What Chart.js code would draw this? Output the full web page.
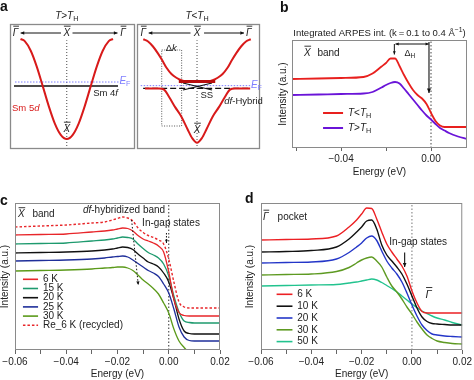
<!DOCTYPE html>
<html><head><meta charset="utf-8">
<script src="https://cdn.jsdelivr.net/npm/chart.js@4/dist/chart.umd.min.js"></script>
<style>
html,body{margin:0;padding:0;background:#fff;}
#wrap{position:relative;width:474px;height:380px;overflow:hidden;background:#fff;}
canvas{position:absolute;left:0;top:0;}
</style></head><body>
<div id="wrap">
<canvas id="pa1" width="474" height="380"></canvas>
<canvas id="pa2" width="474" height="380"></canvas>
<canvas id="pb" width="474" height="380"></canvas>
<canvas id="pc" width="474" height="380"></canvas>
<canvas id="pd" width="474" height="380"></canvas>
</div>
<script>
// ---------------- DATA ----------------
// Panel a (schematic bands, box units 0-100)
const aLeft5dX = [8.4,11.8,16.6,21.4,26.2,31,35.8,40.6,45.4,50.2,55,59.8,64.6,69.4,74.2,79,82.4];
const aLeft5dY = [88,86.3,78.6,65.9,50.3,34.3,20.5,11.3,8,11.3,20.5,34.3,50.3,65.9,78.6,86.3,88];
const aLeft4fX = [3.2,86.4];  const aLeft4fY = [50.4,50.4];
const aLeftEFX = [4,88];      const aLeftEFY = [53.6,53.6];
const aLeftCutX = [45.4,45.4]; const aLeftCutY = [0,87];

const aRightUpX = [5.1,9,13,17,20.5,24,28,32,36,40,48.8,57.6,61.6,65.6,69.6,73.6,77.1,80.6,84.6,88.6,92.5];
const aRightUpY = [87.8,86,82,76.5,71,65,60,57,55,54,53.6,54,55,57,60,65,71,76.5,82,86,87.8];
const aRightFlatX = [34,63.6]; const aRightFlatY = [54,54];
const aRightLowX = [6.5,18,22,26.5,31,36,41,45,48.8,52.6,56.6,61.6,66.6,71.1,75.6,79.6,92];
const aRightLowY = [48.5,48.5,47.5,41,33.5,26,16,8.5,5,8.5,16,26,33.5,41,47.5,48.5,48.5];
const aRight4fX = [5,92];     const aRight4fY = [48.5,48.5];
const aRightEFX = [3,92];     const aRightEFY = [50.7,50.7];
const aRightSS1X = [37.4,61]; const aRightSS1Y = [52.8,47.2];
const aRightSS2X = [37.4,61]; const aRightSS2Y = [47.2,52.8];
const aRightBoxX = [20.1,36.3,36.3,20.1,20.1]; const aRightBoxY = [79.2,79.2,18.4,18.4,79.2];
const aRightCutX = [48.8,48.8]; const aRightCutY = [0,87];

// Panel b
const energyB = [-0.062,-0.05,-0.04,-0.03,-0.026,-0.022,-0.02,-0.018,-0.016,-0.014,-0.012,-0.01,-0.008,-0.006,-0.004,-0.002,0,0.002,0.004,0.006,0.008,0.012,0.016];
const bBelowTH = [69,69.5,70,71,74.5,81.5,85,89.5,89.5,82,73,65,58,53,49.5,44,35,27,22.5,21,21,21,21];
const bAboveTH = [53,53.5,54,54.5,56,60.5,63,65,66,64.5,59.5,54,48.5,43,37.5,32.5,28.5,24,20,17.5,15,11.5,9];
const tickValsB = [-0.06,-0.04,-0.02,0];
const tickLabelsB = ['','\u22120.04','','0.00'];

// Panels c and d share an energy grid
const energyCD = [-0.06,-0.05,-0.04,-0.03,-0.025,-0.022,-0.02,-0.018,-0.016,-0.014,-0.012,-0.01,-0.008,-0.006,-0.004,-0.002,0,0.002,0.004,0.006,0.008,0.01,0.013,0.016,0.02];
const c6K   = [115,115.5,116,118,119,120,121,122,121.5,119,114.5,111,109,107,104,98,78,51,37.5,34.5,34,34,34,34,34];
const c15K  = [106,106.5,107,109,110,111,112,113,112.5,111,106,101.5,97.5,95,92,86,74,54,38,29,27.5,27,27,27,27];
const c20K  = [97,97.5,98,99,100,101,102,103,102.5,100.5,96,92,88,86,83,77,68,51,31,19,16.5,16,16,16,16];
const c25K  = [89,89.5,90,91,92,93,93.5,94,93,90,86.5,83,79.5,77,73.5,66,57,41,23,13,9.5,9,9,9,9];
const c30K  = [79,79.5,80,81,82,82.5,83,83,82,79.5,75,70,66,61.5,56,47,37,21,9,2.5,-3,null,null,null,null];
const cRe6K = [123,124,125,127,128,130,131.5,133,132,129,122,117.5,114.5,112.5,110,106,91,68,48,43,42,42,42,42,42];
const labelsC = ['6 K','15 K','20 K','25 K','30 K','Re_6 K (recycled)'];

const d6K  = [110,110.5,111,114,123,130,136,142,141.5,131,118,106,98,91,84,74,59,47,38.5,37,37,37,37,37,37];
const d10K = [98,98.5,99.5,103,111,118,123,129,130,121,105,95,89,83,76,66,54,42,33,28.5,26.5,26,25.5,25,25];
const d20K = [87,87.5,88,91,97.5,103,107,112,114,109.5,99,89,82,76,68,57,45,34,25,19.5,16,15,14,13.5,13];
const d30K = [75,75.5,76,78.5,82.5,87,90,92,93,89,83,73,64,58,51,43,36,28,21,15,11.5,9,7.5,6.5,6];
const d50K = [64,64.5,65,65.5,67,68,69,70,71,70,67.5,64.5,61.5,58,54,50,46,42.5,39,36.5,34,32,30,27.5,25];
const labelsD = ['6 K','10 K','20 K','30 K','50 K'];

const tickValsCD = [-0.06,-0.05,-0.04,-0.03,-0.02,-0.01,0,0.01,0.02];
const tickLabelsCD = ['\u22120.06','','\u22120.04','','\u22120.02','','0.00','','0.02'];

// ---------------- HELPERS ----------------
const FONT = '"Liberation Sans", Arial, Helvetica, sans-serif';
Chart.defaults.font.family = FONT;
Chart.defaults.color = '#222';

function pts(xs, ys){ return xs.map((x,i)=>({x:x, y:ys[i]})); }
function curve(xs, ys, color, w, extra){
  return Object.assign({data:pts(xs,ys), borderColor:color, borderWidth:w, pointRadius:0, fill:false,
    cubicInterpolationMode:'monotone', spanGaps:false}, extra||{});
}
function straight(xs, ys, color, w, dash){
  return {data:pts(xs,ys), borderColor:color, borderWidth:w, pointRadius:0, fill:false,
    tension:0, cubicInterpolationMode:'default', borderDash:dash||[]};
}
function fnt(p, s){ return (p.i?'italic ':'') + (p.b?'bold ':'') + s + 'px ' + FONT; }
function rich(ctx, parts, x, y, align, base){
  base = base || {};
  const size = base.size || 10;
  let w = 0; const m = [];
  for (const p of parts){
    const s = (p.sub||p.sup) ? size*0.72 : size;
    ctx.font = fnt(p, s);
    const pw = ctx.measureText(p.t).width;
    m.push({p:p, s:s, pw:pw}); w += pw;
  }
  let cx = align==='center' ? x - w/2 : (align==='right' ? x - w : x);
  ctx.save(); ctx.textBaseline='middle'; ctx.textAlign='left';
  for (const it of m){
    const p = it.p;
    const col = p.color || base.color || '#222';
    ctx.font = fnt(p, it.s); ctx.fillStyle = col;
    const dy = p.sub ? size*0.32 : (p.sup ? -size*0.35 : 0);
    ctx.fillText(p.t, cx, y+dy);
    if (p.bar){
      ctx.strokeStyle = col; ctx.lineWidth = 0.9;
      ctx.beginPath(); ctx.moveTo(cx+0.5, y - size*0.68); ctx.lineTo(cx+it.pw+0.5, y - size*0.68); ctx.stroke();
    }
    cx += it.pw;
  }
  ctx.restore();
}
function arrow(ctx, x1, y1, x2, y2, o){
  o = o || {};
  ctx.save();
  ctx.strokeStyle = ctx.fillStyle = o.color || '#111';
  ctx.lineWidth = o.lw || 1;
  if (o.dash) ctx.setLineDash(o.dash);
  ctx.beginPath(); ctx.moveTo(x1,y1); ctx.lineTo(x2,y2); ctx.stroke();
  ctx.setLineDash([]);
  const h = o.head || 4;
  const heads = o.both ? [[x2,y2,x1,y1],[x1,y1,x2,y2]] : [[x1,y1,x2,y2]];
  for (const hd of heads){
    const ang = Math.atan2(hd[3]-hd[1], hd[2]-hd[0]);
    ctx.beginPath(); ctx.moveTo(hd[2],hd[3]);
    ctx.lineTo(hd[2]-h*Math.cos(ang-0.42), hd[3]-h*Math.sin(ang-0.42));
    ctx.lineTo(hd[2]-h*Math.cos(ang+0.42), hd[3]-h*Math.sin(ang+0.42));
    ctx.closePath(); ctx.fill();
  }
  ctx.restore();
}
function frame(ctx, A, color, lw){
  ctx.save(); ctx.strokeStyle = color || '#8a8a8a'; ctx.lineWidth = lw || 1;
  ctx.strokeRect(A.left+0.5, A.top+0.5, A.right-A.left-1, A.bottom-A.top-1); ctx.restore();
}
function letter(ctx, s, x, y){
  ctx.save(); ctx.font = 'bold 14px ' + FONT; ctx.fillStyle = '#111'; ctx.textBaseline='alphabetic';
  ctx.fillText(s, x, y); ctx.restore();
}
function vtitle(ctx, s, x, y){
  ctx.save(); ctx.translate(x,y); ctx.rotate(-Math.PI/2); ctx.font = '10px ' + FONT; ctx.fillStyle='#222';
  ctx.textAlign='center'; ctx.textBaseline='middle'; ctx.fillText(s,0,0); ctx.restore();
}
function htitle(ctx, s, x, y){
  ctx.save(); ctx.font = '10px ' + FONT; ctx.fillStyle='#222';
  ctx.textAlign='center'; ctx.textBaseline='middle'; ctx.fillText(s,x,y); ctx.restore();
}
function legLine(ctx, x1, x2, y, color, w, dash){
  ctx.save(); ctx.strokeStyle=color; ctx.lineWidth=w; if(dash) ctx.setLineDash(dash);
  ctx.beginPath(); ctx.moveTo(x1,y); ctx.lineTo(x2,y); ctx.stroke(); ctx.restore();
}

function makeChart(id, area, xr, yr, xAxis, datasets, draw){
  const xh = xAxis ? xAxis.height : 0;
  const x = {type:'linear', min:xr[0], max:xr[1], display: !!xAxis};
  if (xAxis) Object.assign(x, {
    position:'bottom',
    afterBuildTicks: s => { s.ticks = xAxis.values.map(v => ({value:v})); },
    afterFit: s => { s.height = xAxis.height; },
    ticks: {autoSkip:false, maxRotation:0, minRotation:0, padding:xAxis.pad, color:'#222',
      font:{size:10, family:FONT}, callback:(v,i) => xAxis.labels[i]},
    grid: {drawOnChartArea:false, drawTicks:true, tickLength:xAxis.tick, color:'#666', lineWidth:1},
    border: {display:false}
  });
  return new Chart(document.getElementById(id), {
    type:'line',
    data:{datasets:datasets},
    options:{
      responsive:false, animation:false, events:[],
      layout:{autoPadding:false, padding:{left:area[0], top:area[1], right:474-area[2], bottom:380-area[3]-xh}},
      plugins:{legend:{display:false}, tooltip:{enabled:false}, title:{display:false}},
      scales:{x:x, y:{type:'linear', display:false, min:yr[0], max:yr[1]}}
    },
    plugins:[{id:'deco', afterDraw(chart){
      const ctx = chart.ctx, A = chart.chartArea;
      const X = v => chart.scales.x.getPixelForValue(v), Y = v => chart.scales.y.getPixelForValue(v);
      ctx.save(); draw(ctx, X, Y, A); ctx.restore();
    }}]
  });
}

const RED_A = '#d81a1a', EF_BLUE = '#7f7fff';
const T = (rel) => [{t:'T',i:1},{t:rel},{t:'T',i:1},{t:'H',sub:1}];

// ---------------- PANEL a (left) ----------------
makeChart('pa1', [10,24,135,149], [0,100], [0,100], null, [
  curve(aLeft5dX, aLeft5dY, RED_A, 2),
  straight(aLeft4fX, aLeft4fY, '#111', 1.4),
  straight(aLeftEFX, aLeftEFY, EF_BLUE, 1, [1.5,1.5]),
  straight(aLeftCutX, aLeftCutY, '#333', 0.9, [1,2])
], (ctx, X, Y, A) => {
  frame(ctx, A, '#8a8a8a', 1.3);
  letter(ctx, 'a', 0, 11);
  rich(ctx, T('>'), X(45.4), 16, 'center');
  rich(ctx, [{t:'\u0393',i:1,bar:1}], X(4.5), Y(92.8), 'center');
  rich(ctx, [{t:'X',i:1,bar:1}], X(45.4), Y(92.8), 'center');
  rich(ctx, [{t:'\u0393',i:1,bar:1}], X(90.4), Y(92.8), 'center');
  arrow(ctx, X(40.8), Y(92.8), X(8.5), Y(92.8));
  arrow(ctx, X(50), Y(92.8), X(86), Y(92.8));
  rich(ctx, [{t:'E',i:1},{t:'F',sub:1}], X(87.5), Y(54.6), 'left', {color:EF_BLUE});
  rich(ctx, [{t:'Sm 4'},{t:'f',i:1}], X(66.5), Y(44.6), 'left', {size:9.5});
  rich(ctx, [{t:'Sm 5'},{t:'d',i:1}], X(1.6), Y(32.8), 'left', {color:RED_A, size:9.5});
  rich(ctx, [{t:'X',i:1,bar:1}], X(45.4), Y(16), 'center');
});

// ---------------- PANEL a (right) ----------------
makeChart('pa2', [137,24,260,149], [0,100], [0,100], null, [
  straight(aRightFlatX, aRightFlatY, '#b80e0e', 3.2),
  curve(aRightUpX, aRightUpY, RED_A, 2),
  curve(aRightLowX, aRightLowY, RED_A, 2),
  straight(aRightSS1X, aRightSS1Y, '#111', 1.1),
  straight(aRightSS2X, aRightSS2Y, '#111', 1.1),
  straight(aRight4fX, aRight4fY, '#111', 1.4, [6,3]),
  straight(aRightEFX, aRightEFY, EF_BLUE, 1, [1.5,1.5]),
  straight(aRightBoxX, aRightBoxY, '#444', 0.9, [1,1.5]),
  straight(aRightCutX, aRightCutY, '#333', 0.9, [1,2])
], (ctx, X, Y, A) => {
  frame(ctx, A, '#8a8a8a', 1.3);
  rich(ctx, T('<'), X(48.8), 16, 'center');
  rich(ctx, [{t:'\u0393',i:1,bar:1}], X(5.1), Y(92.8), 'center');
  rich(ctx, [{t:'X',i:1,bar:1}], X(48.8), Y(92.8), 'center');
  rich(ctx, [{t:'\u0393',i:1,bar:1}], X(91), Y(92.8), 'center');
  arrow(ctx, X(43.5), Y(92.8), X(9.5), Y(92.8));
  arrow(ctx, X(54.5), Y(92.8), X(87), Y(92.8));
  rich(ctx, [{t:'\u0394'},{t:'k',i:1}], X(27.8), Y(80.5), 'center', {size:9.5});
  rich(ctx, [{t:'SS'}], X(56.7), Y(43.2), 'center', {size:9.5});
  rich(ctx, [{t:'df',i:1},{t:'-Hybrid'}], X(71), Y(38.2), 'left', {size:9.5});
  rich(ctx, [{t:'E',i:1},{t:'F',sub:1}], X(92.6), Y(51), 'left', {color:EF_BLUE});
  rich(ctx, [{t:'X',i:1,bar:1}], X(48.8), Y(15.2), 'center');
});

// ---------------- PANEL b ----------------
makeChart('pb', [292,40,467,148], [-0.0618,0.016], [0,108],
  {values:tickValsB, labels:tickLabelsB, height:22, tick:3, pad:2}, [
  curve(energyB, bBelowTH, '#e8201e', 1.8),
  curve(energyB, bAboveTH, '#6a14d8', 1.8),
  straight([0,0], [0,108], '#444', 1, [1.5,2])
], (ctx, X, Y, A) => {
  frame(ctx, A, '#8a8a8a', 1);
  letter(ctx, 'b', 280, 12);
  rich(ctx, [{t:'Integrated ARPES int. (k\u2009=\u20090.1 to 0.4 \u00C5'},{t:'\u22121',sup:1},{t:')'}], (A.left+A.right)/2, A.top-7, 'center', {size:9.5});
  rich(ctx, [{t:'X',i:1,bar:1}], X(-0.0565), Y(95), 'left');
  rich(ctx, [{t:'band'}], X(-0.0505), Y(95), 'left');
  arrow(ctx, X(-0.0163), Y(104), X(-0.0163), Y(93.5), {head:3.5});
  arrow(ctx, X(-0.0158), Y(104), X(-0.001), Y(104), {both:1, head:3.5});
  rich(ctx, [{t:'\u0394'},{t:'H',sub:1}], X(-0.0118), Y(94.5), 'left', {size:9});
  arrow(ctx, X(-0.0009), Y(106), X(-0.0009), Y(55), {head:5, lw:1.1});
  legLine(ctx, X(-0.048), X(-0.0391), Y(35), '#e8201e', 2);
  rich(ctx, T('<'), X(-0.0369), Y(35), 'left');
  legLine(ctx, X(-0.048), X(-0.0391), Y(20), '#6a14d8', 2);
  rich(ctx, T('>'), X(-0.0369), Y(20), 'left');
  vtitle(ctx, 'Intensity (a.u.)', A.left-9, (A.top+A.bottom)/2);
  htitle(ctx, 'Energy (eV)', (A.left+A.right)/2, A.bottom+24);
});

// ---------------- PANEL c ----------------
const colorsC = ['#e8262a','#1e9a6e','#111111','#1f2f9a','#5b9a1a','#e8262a'];
makeChart('pc', [15,203,220,350], [-0.06,0.02], [0,147],
  {values:tickValsCD, labels:tickLabelsCD, height:22, tick:4, pad:2}, [
  curve(energyCD, cRe6K, colorsC[5], 1.4, {borderDash:[2.5,2]}),
  curve(energyCD, c6K,  colorsC[0], 1.3),
  curve(energyCD, c15K, colorsC[1], 1.3),
  curve(energyCD, c20K, colorsC[2], 1.3),
  curve(energyCD, c25K, colorsC[3], 1.3),
  curve(energyCD, c30K, colorsC[4], 1.3),
  straight([0,0], [0,147], '#333', 1, [1.5,2])
], (ctx, X, Y, A) => {
  frame(ctx, A, '#8a8a8a', 1);
  letter(ctx, 'c', 0, 205);
  rich(ctx, [{t:'X',i:1,bar:1}], X(-0.0588), Y(135.5), 'left');
  rich(ctx, [{t:'band'}], X(-0.0532), Y(135.5), 'left');
  rich(ctx, [{t:'df',i:1},{t:'-hybridized band'}], X(-0.0335), Y(140), 'left');
  rich(ctx, [{t:'In-gap states'}], X(-0.0104), Y(127), 'left');
  arrow(ctx, X(-0.0145), Y(130), X(-0.0119), Y(65), {dash:[1.5,2], head:4});
  arrow(ctx, X(-0.0009), Y(117), X(-0.0009), Y(107), {dash:[1.5,1.5], head:3.5});
  const legY = [70.7,61.5,52.3,43.1,33.9,24.7];
  labelsC.forEach((lab, i) => {
    legLine(ctx, X(-0.0569), X(-0.051), Y(legY[i]), colorsC[i], 1.6, i===5 ? [2.5,2] : null);
    rich(ctx, [{t:lab}], X(-0.0491), Y(legY[i]), 'left');
  });
  vtitle(ctx, 'Intensity (a.u.)', A.left-10, (A.top+A.bottom)/2);
  htitle(ctx, 'Energy (eV)', (A.left+A.right)/2, A.bottom+24);
});

// ---------------- PANEL d ----------------
const colorsD = ['#ec2024','#111111','#2436c8','#5e9a22','#22c38e'];
makeChart('pd', [261,203,466,350], [-0.06,0.02], [0,147],
  {values:tickValsCD, labels:tickLabelsCD, height:22, tick:4, pad:2}, [
  curve(energyCD, d6K,  colorsD[0], 1.4),
  curve(energyCD, d10K, colorsD[1], 1.4),
  curve(energyCD, d20K, colorsD[2], 1.4),
  curve(energyCD, d30K, colorsD[3], 1.4),
  curve(energyCD, d50K, colorsD[4], 1.4),
  straight([0,0], [0,147], '#777', 1, [1.5,2])
], (ctx, X, Y, A) => {
  frame(ctx, A, '#8a8a8a', 1);
  letter(ctx, 'd', 245, 203);
  rich(ctx, [{t:'\u0393',i:1,bar:1}], X(-0.0592), Y(133), 'left');
  rich(ctx, [{t:'pocket'}], X(-0.0534), Y(133), 'left');
  rich(ctx, [{t:'In-gap states'}], X(-0.009), Y(107.5), 'left');
  arrow(ctx, X(-0.0029), Y(97.5), X(-0.0029), Y(83), {head:4.5, lw:1.1});
  rich(ctx, [{t:'\u0393',i:1,bar:1}], X(0.0054), Y(55), 'left', {size:11});
  const legY = [55.7,43.8,32,20.2,8.4];
  labelsD.forEach((lab, i) => {
    legLine(ctx, X(-0.0538), X(-0.0475), Y(legY[i]), colorsD[i], 1.6);
    rich(ctx, [{t:lab}], X(-0.0456), Y(legY[i]), 'left');
  });
  vtitle(ctx, 'Intensity (a.u.)', A.left-11, (A.top+A.bottom)/2);
  htitle(ctx, 'Energy (eV)', (A.left+A.right)/2, A.bottom+24);
});
</script>
</body></html>
